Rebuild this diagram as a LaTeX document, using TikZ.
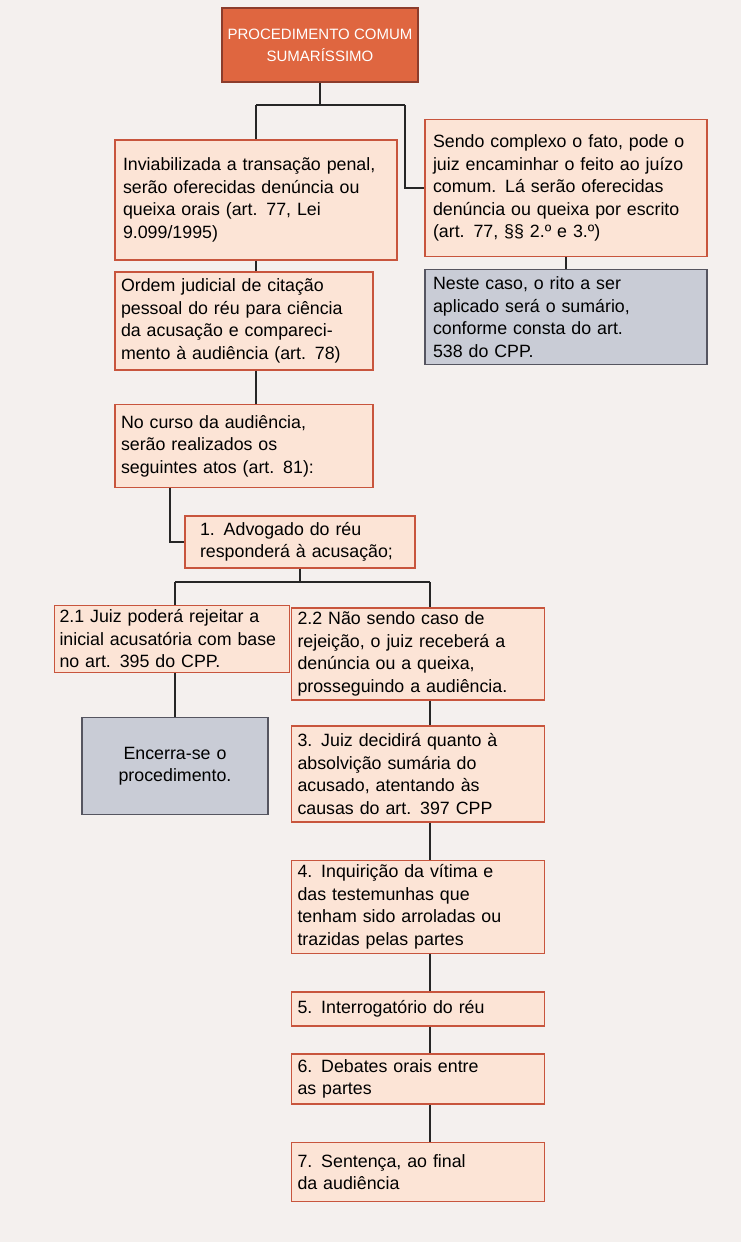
\documentclass[tikz,border=0pt]{standalone}
\usepackage{fontspec}
\setmainfont{Liberation Sans}
\begin{document}
\begin{tikzpicture}[x=1pt,y=-1pt,
  box/.style={draw=boxline,fill=boxfill,line width=1.2pt,font=\fontsize{17.8}{22.5}\selectfont,align=left,inner sep=4pt},
  gbox/.style={box,fill=grayfill,draw=grayline},
  link/.style={draw=black!85,line width=1.3pt}]
\definecolor{boxfill}{HTML}{FCE4D6}
\definecolor{boxline}{HTML}{C8553D}
\definecolor{grayfill}{HTML}{C9CCD6}
\definecolor{grayline}{HTML}{555560}
\definecolor{topfill}{HTML}{DF6640}
\definecolor{paper}{HTML}{F4F0EE}
\fill[paper] (0,0) rectangle (741,1242);
\useasboundingbox (0,0) rectangle (741,1242);
\node[box,fill=topfill,draw=boxline!70!black,text=white,align=center,minimum width=196,minimum height=74,font=\fontsize{15}{22}\selectfont] (top) at (320,45) {PROCEDIMENTO COMUM\\SUMARÍSSIMO};
\node[box,minimum width=282,minimum height=120,text width=266] (a) at (256,200) {Inviabilizada a transação penal,\\serão oferecidas denúncia ou\\queixa orais (art. 77, Lei\\9.099/1995)};
\node[box,minimum width=282,minimum height=137,text width=266] (b) at (566,188) {Sendo complexo o fato, pode o\\juiz encaminhar o feito ao juízo\\comum. Lá serão oferecidas\\denúncia ou queixa por escrito\\(art. 77, §§ 2.º e 3.º)};
\node[gbox,minimum width=282,minimum height=95,text width=266] (c) at (566,317) {Neste caso, o rito a ser\\aplicado será o sumário,\\conforme consta do art.\\538 do CPP.};
\node[box,minimum width=258,minimum height=98,text width=246] (d) at (244,321) {Ordem judicial de citação\\pessoal do réu para ciência\\da acusação e compareci-\\mento à audiência (art. 78)};
\node[box,minimum width=258,minimum height=83,text width=246] (e) at (244,446) {No curso da audiência,\\serão realizados os\\seguintes atos (art. 81):};
\node[box,minimum width=230,minimum height=52,text width=200] (f) at (300,542) {1. Advogado do réu\\responderá à acusação;};
\node[box,minimum width=235,minimum height=58,text width=225] (g) at (172,639) {2.1 Juiz poderá rejeitar a\\inicial acusatória com base\\no art. 395 do CPP.};
\node[box,minimum width=253,minimum height=92,text width=241] (h) at (418,654) {2.2 Não sendo caso de\\rejeição, o juiz receberá a\\denúncia ou a queixa,\\prosseguindo a audiência.};
\node[gbox,align=center,minimum width=186,minimum height=97,text width=170] (i) at (175,766) {Encerra-se o\\procedimento.};
\node[box,minimum width=253,minimum height=96,text width=241] (j) at (418,774) {3. Juiz decidirá quanto à\\absolvição sumária do\\acusado, atentando às\\causas do art. 397 CPP};
\node[box,minimum width=253,minimum height=90,text width=241] (k) at (418,907) {4. Inquirição da vítima e\\das testemunhas que\\tenham sido arroladas ou\\trazidas pelas partes};
\node[box,minimum width=253,minimum height=34,text width=241] (l) at (418,1009) {5. Interrogatório do réu};
\node[box,minimum width=253,minimum height=50,text width=241] (m) at (418,1079) {6. Debates orais entre\\as partes};
\node[box,minimum width=253,minimum height=59,text width=241] (n) at (418,1172) {7. Sentença, ao final\\da audiência};
\coordinate (t1) at (320,105);
\coordinate (tl) at (256,105);
\coordinate (tr) at (405,105);
\coordinate (f1) at (300,582);
\coordinate (fl) at (175,582);
\coordinate (fr) at (430,582);
\draw[link] (top.south) -- (t1);
\draw[link] (tl) -- (tr);
\draw[link] (tl) -- (a.north);
\draw[link] (tr) |- (b.west);
\draw[link] (b.south) -- (c.north);
\draw[link] (a.south) -- (a.south |- d.north);
\draw[link] (d.south -| a.south) -- (a.south |- e.north);
\draw[link] (e.south -| 170,0) |- (f.west);
\draw[link] (f.south -| f1) -- (f1);
\draw[link] (fl) -- (fr);
\draw[link] (fl) -- (fl |- g.north);
\draw[link] (fr) -- (fr |- h.north);
\draw[link] (g.south -| fl) -- (fl |- i.north);
\draw[link] (h.south -| fr) -- (fr |- j.north);
\draw[link] (j.south -| fr) -- (fr |- k.north);
\draw[link] (k.south -| fr) -- (fr |- l.north);
\draw[link] (l.south -| fr) -- (fr |- m.north);
\draw[link] (m.south -| fr) -- (fr |- n.north);
\end{tikzpicture}
\end{document}
